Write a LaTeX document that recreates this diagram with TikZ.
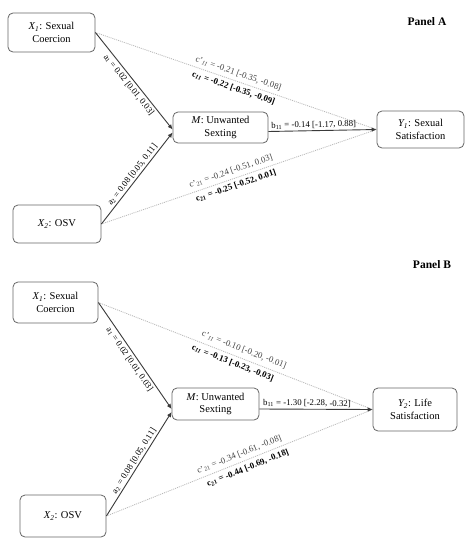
\documentclass[tikz,border=0pt]{standalone}
\usepackage{fontspec}
\setmainfont{Liberation Serif}
\usetikzlibrary{arrows.meta}
\definecolor{boxc}{HTML}{666666}
\definecolor{linec}{HTML}{3A3A3A}
\definecolor{dotc}{HTML}{B8B8B8}
\definecolor{cpc}{HTML}{444444}
\begin{document}
\begin{tikzpicture}[x=1pt,y=-1pt,
  box/.style={draw=boxc, line width=0.8pt, rounded corners=5pt, align=center,
    font=\fontsize{10.5}{12.5}\selectfont, inner sep=0pt},
  medpath/.style={draw=linec, line width=0.9pt, -{Latex[length=5pt,width=4.5pt]}},
  dotpath/.style={draw=dotc, line width=0.8pt, dash pattern=on 1pt off 1pt},
  lab/.style={font=\fontsize{8.8}{10}\selectfont, sloped, inner sep=1.5pt, text=black},
  cplab/.style={lab, text=cpc},
  clab/.style={lab, font=\fontsize{8.8}{10}\selectfont\bfseries},
  panel/.style={font=\fontsize{11.5}{13}\selectfont\bfseries}]
\useasboundingbox[fill=white] (0,0) rectangle (474,546);
% ---------- Panel A ----------
\node[panel] (pA) at (427,22) {Panel A};
\node[box, minimum width=87pt, minimum height=39pt] (X1A) at (51.5,32.5) {\textit{X\textsubscript{1}}: Sexual\\Coercion};
\node[box, minimum width=95pt, minimum height=31pt] (MA) at (220.5,127.5) {\textit{M}: Unwanted\\Sexting};
\node[box, minimum width=87pt, minimum height=37pt] (YA) at (420.5,129.5) {\textit{Y\textsubscript{1}}: Sexual\\Satisfaction};
\node[box, minimum width=88pt, minimum height=38pt] (X2A) at (57,224) {\textit{X\textsubscript{2}}: OSV};
\draw[dotpath] (X1A.east) -- (YA.west)
  node[cplab, pos=0.5, above=2pt] (cpA1) {c'\textsubscript{\itshape 11} = -0.21 [-0.35, -0.08]}
  node[clab, pos=0.5, below=2pt] (cA1) {c\textsubscript{\itshape 11} = -0.22 [-0.35, -0.09]};
\draw[dotpath] (X2A.east) -- (YA.west)
  node[cplab, pos=0.48, above=2pt] (cpA2) {c'\textsubscript{21} = -0.24 [-0.51, 0.03]}
  node[clab, pos=0.48, below=2pt] (cA2) {c\textsubscript{21} = -0.25 [-0.52, 0.01]};
\draw[medpath] (X1A.east) -- ([yshift=-2pt]MA.west)
  node[lab, pos=0.5, below=1pt] (aA1) {a\textsubscript{1} = 0.02 [0.01, 0.03]};
\draw[medpath] (X2A.east) -- ([yshift=-5pt]MA.west)
  node[lab, pos=0.5, above=0pt] (aA2) {a\textsubscript{2} = 0.08 [0.05, 0.11]};
\draw[medpath] ([yshift=-4pt]MA.east) -- (YA.west)
  node[lab, pos=0.42, above=0pt] (bA) {b\textsubscript{11} = -0.14 [-1.17, 0.88]};
% ---------- Panel B ----------
\node[panel] (pB) at (432,265) {Panel B};
\node[box, minimum width=85pt, minimum height=41pt] (X1B) at (55.5,302.5) {\textit{X\textsubscript{1}}: Sexual\\Coercion};
\node[box, minimum width=87pt, minimum height=32pt] (MB) at (215.5,404) {\textit{M}: Unwanted\\Sexting};
\node[box, minimum width=84pt, minimum height=43pt] (YB) at (415,409.5) {\textit{Y\textsubscript{2}}: Life\\Satisfaction};
\node[box, minimum width=86pt, minimum height=42pt] (X2B) at (63,516) {\textit{X\textsubscript{2}}: OSV};
\draw[dotpath] (X1B.east) -- (YB.west)
  node[cplab, pos=0.52, above=3pt] (cpB1) {c'\textsubscript{\itshape 11} = -0.10 [-0.20, -0.01]}
  node[clab, pos=0.5, below=2pt] (cB1) {c\textsubscript{\itshape 11} = -0.13 [-0.23, -0.03]};
\draw[dotpath] (X2B.east) -- (YB.west)
  node[cplab, pos=0.51, above=2pt] (cpB2) {c'\textsubscript{21} = -0.34 [-0.61, -0.08]}
  node[clab, pos=0.52, below=2.5pt] (cB2) {c\textsubscript{21} = -0.44 [-0.69, -0.18]};
\draw[medpath] (X1B.east) -- ([yshift=-5pt]MB.west)
  node[lab, pos=0.5, below=1pt] (aB1) {a\textsubscript{1} = 0.02 [0.01, 0.03]};
\draw[medpath] (X2B.east) -- ([yshift=-8pt]MB.west)
  node[lab, pos=0.5, above=0pt] (aB2) {a\textsubscript{2} = 0.08 [0.05, 0.11]};
\draw[medpath] ([yshift=-5pt]MB.east) -- (YB.west)
  node[lab, pos=0.42, above=0pt] (bB) {b\textsubscript{11} = -1.30 [-2.28, -0.32]};
\end{tikzpicture}
\end{document}
